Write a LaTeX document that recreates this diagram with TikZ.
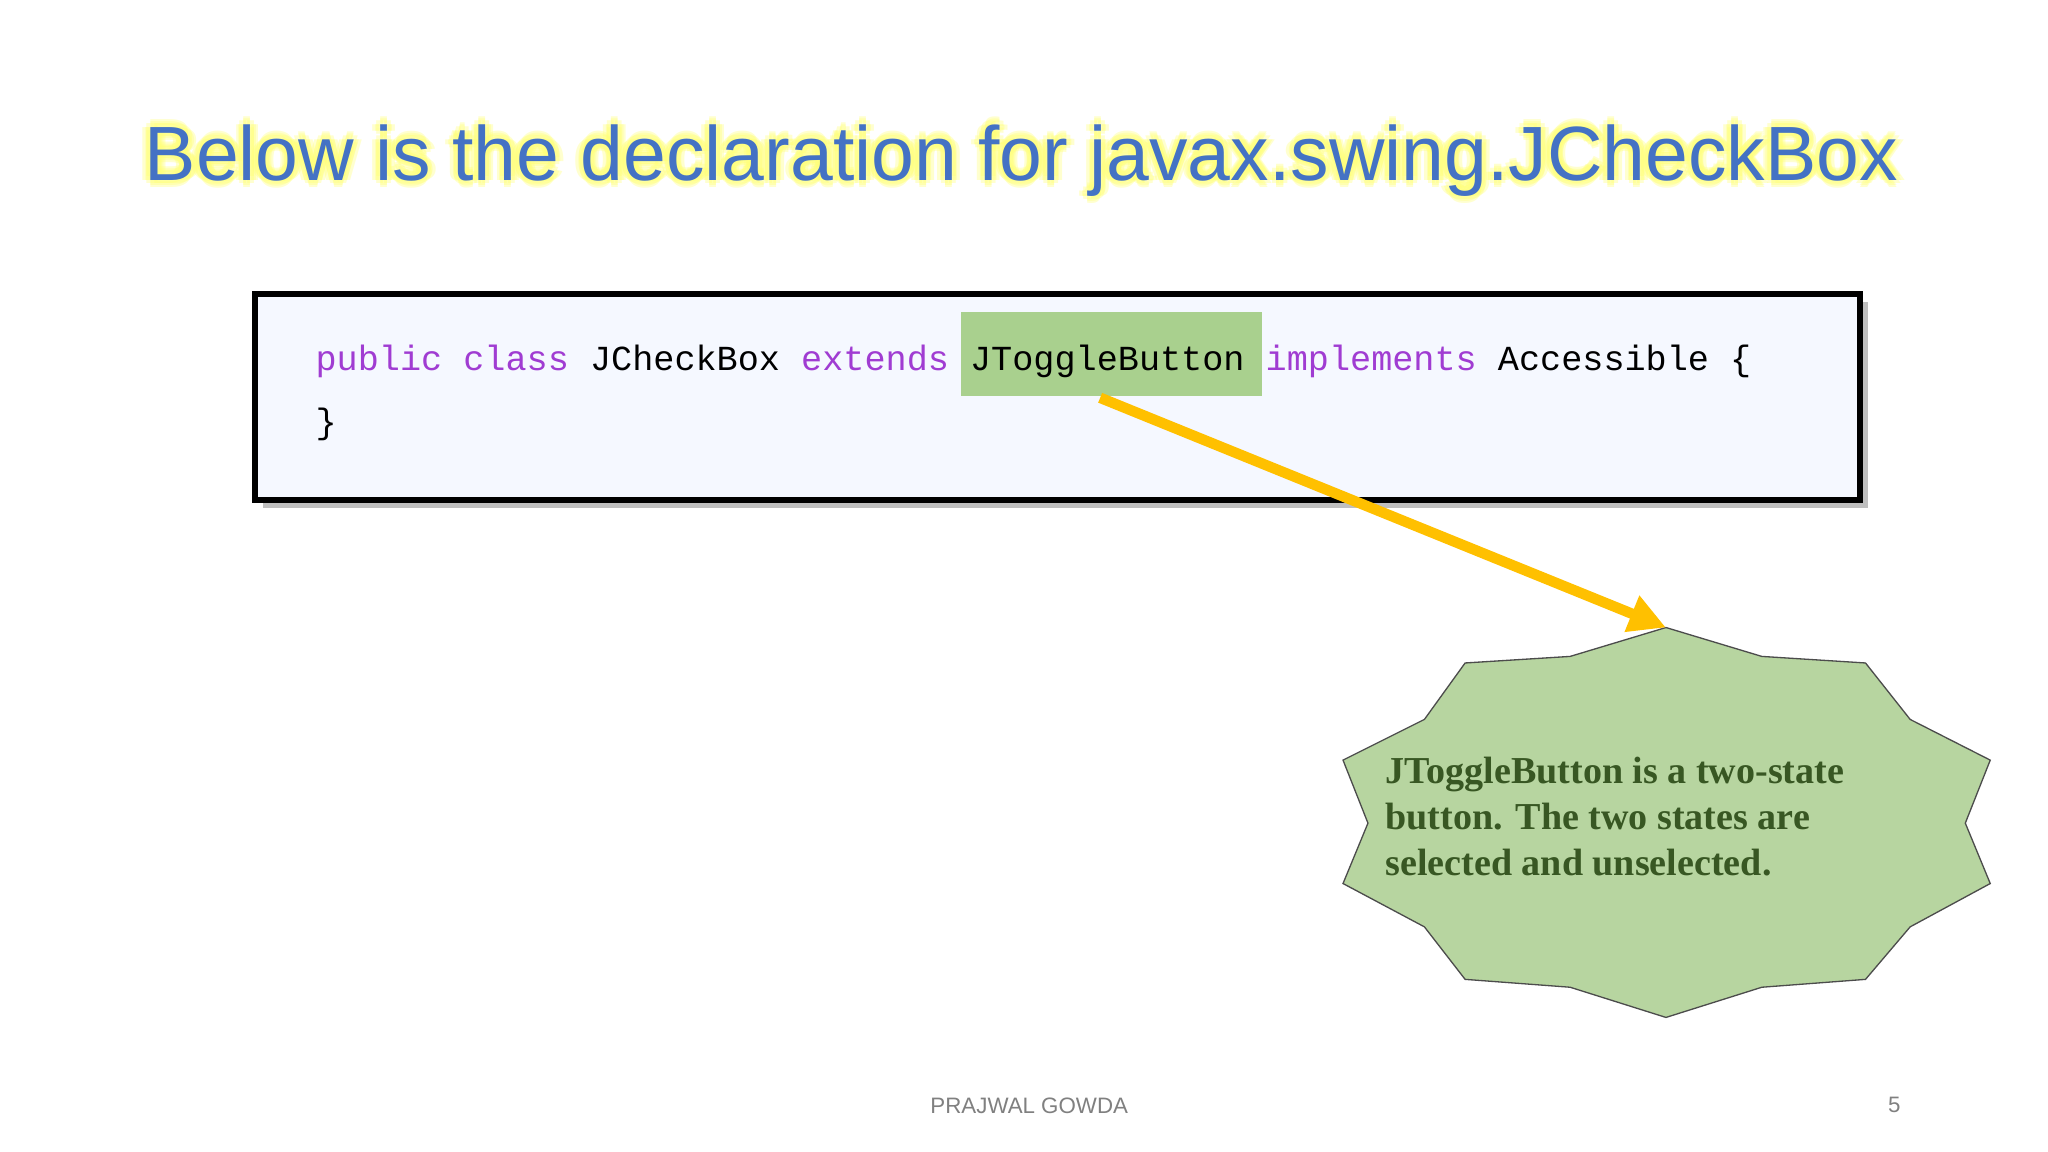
\documentclass[tikz,border=0pt]{standalone}
\usepackage{fontspec}
\setmainfont{Liberation Sans}
\newfontfamily\codefont{Liberation Mono}
\newfontfamily\serifb{Liberation Serif}
\usetikzlibrary{arrows.meta}
\definecolor{titleblue}{RGB}{68,114,196}
\definecolor{glow}{RGB}{255,255,120}
\definecolor{kw}{RGB}{160,60,210}
\definecolor{codebg}{RGB}{245,248,255}
\definecolor{hl}{RGB}{169,208,142}
\definecolor{arr}{RGB}{255,192,0}
\definecolor{starfill}{RGB}{183,213,160}
\definecolor{startext}{RGB}{56,87,35}
\tikzset{
 titletext/.style={anchor=center,font=\fontsize{29.3}{34}\selectfont,inner sep=0},
 codetext/.style={anchor=base west,font=\codefont\fontsize{13.4}{16}\selectfont,inner sep=0},
 foot/.style={font=\fontsize{8.5}{10}\selectfont,text=gray,inner sep=0},
}
\begin{document}
\begin{tikzpicture}[x=0.5pt,y=-0.5pt]
\useasboundingbox[fill=white] (0,0) rectangle (1560,877.5);
% title glow
\foreach \dx/\dy in {-4/0,4/0,0/-4,0/4,-3/-3,3/3,-3/3,3/-3,-6/0,6/0,0/6,0/-6}
  \node[titletext,text=glow,opacity=0.35] at (778+\dx,122+\dy) {Below is the declaration for javax.swing.JCheckBox};
\node[titletext,text=titleblue] (title) at (778,122) {Below is the declaration for javax.swing.JCheckBox};
% code box
\fill[black!25] (200,230) rectangle (1423,387);
\draw[line width=2.2pt,fill=codebg] (194,224) rectangle (1417,381);
\fill[hl] (732,238) rectangle (961,302);
\node[codetext] (code) at (240,282) {\textcolor{kw}{public class} JCheckBox \textcolor{kw}{extends} JToggleButton \textcolor{kw}{implements} Accessible \{};
\node[codetext] (brace) at (240,330) {\}};
\coordinate (hlc) at (838,303);
% star
\draw[draw=black!70,line width=0.5pt,fill=starfill]
 (1269,478)--(1342,500)--(1421,505)--(1455,548)--(1516,579)--(1497,627)--(1516,673)--(1455,706)--(1421,746)--(1342,752)--(1269,775)--(1196,752)--(1116,746)--(1085,706)--(1023,673)--(1042,627)--(1023,579)--(1085,548)--(1116,505)--(1196,500)--cycle;
\coordinate (startop) at (1269,478);
\node[anchor=north west,align=left,text=startext,font=\serifb\bfseries\fontsize{14.5}{17.5}\selectfont,inner sep=0] (note) at (1055,576)
 {JToggleButton is a two-state\\button. The two states are\\selected and unselected.};
\draw[arr,line width=4pt,-{Triangle[length=14pt,width=14pt]}] (hlc) -- (startop);
% footer
\node[foot] (author) at (784,842) {PRAJWAL GOWDA};
\node[foot] (page) at (1443,842) {5};
\end{tikzpicture}
\end{document}
